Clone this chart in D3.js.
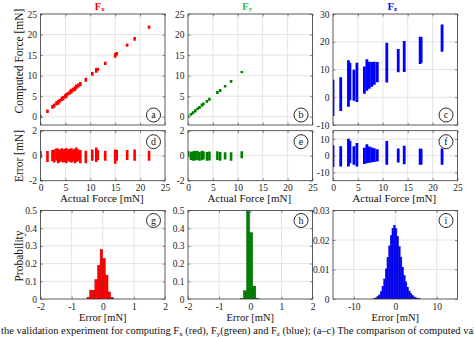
<!DOCTYPE html>
<html><head><meta charset="utf-8">
<script src="https://cdn.jsdelivr.net/npm/d3@7"></script>
<style>
html,body{margin:0;padding:0;background:#fff;overflow:hidden;}
svg{display:block;font-family:"Liberation Serif","Times New Roman",serif;}
svg text{font-family:"Liberation Serif","Times New Roman",serif;}
</style></head><body>
<svg id="chart" width="474" height="337"></svg>
<script>
// ---- Fx: actual force clusters [mN] and error range of each cluster [mN]
const fxActual = [0, 1.4, 2.4, 2.75, 3.2, 3.55, 3.9, 4.3, 4.55, 4.95, 5.2, 5.55, 5.9, 6.2, 6.55, 6.9, 7.2, 7.6, 8.0, 9.1, 10.4, 11.2, 11.5, 13.0, 15.0, 15.3, 17.4, 18.9, 21.8];
const fxErrLo  = [-0.2, -0.5, -0.45, -0.55, -0.4, -0.6, -0.5, -0.45, -0.55, -0.5, -0.6, -0.4, -0.5, -0.55, -0.45, -0.6, -0.5, -0.45, -0.6, -0.6, -0.4, -0.5, -0.35, -0.4, -0.65, -0.4, -0.35, -0.4, -0.4];
const fxErrHi  = [0.38, 0.38, 0.45, 0.5, 0.6, 0.55, 0.5, 0.6, 0.5, 0.55, 0.6, 0.5, 0.55, 0.6, 0.5, 0.55, 0.65, 0.5, 0.45, 0.4, 0.5, 0.65, 0.45, 0.4, 0.5, 0.45, 0.45, 0.5, 0.4];

// ---- Fy
const fyActual = [0, 0.6, 1.0, 1.45, 1.9, 2.3, 2.8, 3.1, 3.8, 4.3, 5.9, 6.45, 7.45, 8.65, 10.8];
const fyErrLo  = [-0.08, -0.34, -0.4, -0.38, -0.34, -0.4, -0.36, -0.3, -0.4, -0.38, -0.34, -0.4, -0.3, -0.4, -0.21];
const fyErrHi  = [0.4, 0.32, 0.36, 0.4, 0.38, 0.3, 0.4, 0.36, 0.3, 0.34, 0.36, 0.3, 0.27, 0.27, 0.36];

// ---- Fz
const fzActual = [0, 1.55, 3.1, 3.4, 4.2, 4.8, 6.3, 6.8, 7.3, 7.8, 8.3, 8.9, 10.8, 13.1, 14.3, 17.5, 17.7, 21.9];
const fzErrLo  = [-6.8, -6.5, -6.5, -4.5, -5.5, -6.5, -5.0, -4.5, -4.2, -4.0, -3.8, -3.5, -5.5, -4.1, -5.2, -5.5, -5.3, -5.5];
const fzErrHi  = [6.3, 5.7, 10.2, 9.0, 5.7, 7.6, 4.8, 6.9, 5.5, 4.9, 4.5, 3.8, 8.8, 4.3, 6.0, 4.3, 4.0, 4.3];

// ---- error histograms (bin centres [mN], probability per bin)
const fxBinWidth = 0.085;
const fxHistCenters = [-0.4675, -0.3825, -0.2975, -0.2125, -0.1275, -0.0425, 0.0425, 0.1275, 0.2125, 0.2975];
const fxHistProb    = [0.01, 0.05, 0.05, 0.11, 0.19, 0.28, 0.23, 0.135, 0.04, 0.01];

const fyBinWidth = 0.1;
const fyHistCenters = [-0.27, -0.17, -0.07, 0.03, 0.13, 0.23];
const fyHistProb    = [0.004, 0.047, 0.5, 0.375, 0.073, 0.003];

const fzBinWidth = 0.4;
const fzHistCenters = [-5.0, -4.6, -4.2, -3.8, -3.4, -3.0, -2.6, -2.2, -1.8, -1.4, -1.0, -0.6, -0.2, 0.2, 0.6, 1.0, 1.4, 1.8, 2.2, 2.6, 3.0, 3.4, 3.8, 4.2, 4.6, 5.0, 5.4, 5.8];
const fzHistProb    = [0.0002, 0.0004, 0.0008, 0.0014, 0.0025, 0.0042, 0.0068, 0.0102, 0.0140, 0.0180, 0.0215, 0.0240, 0.0250, 0.0238, 0.0212, 0.0178, 0.0142, 0.0108, 0.0080, 0.0058, 0.0040, 0.0027, 0.0018, 0.0011, 0.0007, 0.0004, 0.0002, 0.0001];

// ---- ticks
const forceTicks   = [0, 5, 10, 15, 20, 25];
const computedTicks = [0, 5, 10, 15, 20, 25];
const computedZTicks = [-10, 0, 10, 20, 30];
const errTicks     = [-2, 0, 2];
const errZTicks    = [-10, 0, 10];
const histXTicks   = [-2, -1, 0, 1, 2];
const histZXTicks  = [-10, 0, 10];
const probTicks    = [0, 0.1, 0.2, 0.3, 0.4, 0.5];
const probZTicks   = [0, 0.01, 0.02, 0.03];

const titles = [["F", "x", "#ff0000"], ["F", "y", "#2fb34f"], ["F", "z", "#0000ff"]];
const letters = ["a", "b", "c", "d", "e", "f", "g", "h", "i"];

const RED = "#ff0000", GREEN = "#008000", BLUE = "#0000ff";
const SERIF = '"Liberation Serif","Times New Roman",serif';

const svg = d3.select("#chart");
const colX = [[40.5, 165], [188, 312.5], [333, 457.5]];
const rowY = [[14, 125], [130.7, 180.7], [210.5, 299]];

function panel(ci, ri, xDom, yDom, xTicks, yTicks, xLabels) {
  const [x0, x1] = colX[ci], [y0, y1] = rowY[ri];
  const x = d3.scaleLinear().domain(xDom).range([x0, x1]);
  const y = d3.scaleLinear().domain(yDom).range([y1, y0]);
  const g = svg.append("g");
  g.append("rect").attr("x", x0).attr("y", y0).attr("width", x1 - x0).attr("height", y1 - y0).attr("fill", "#fff");
  // grid
  g.append("g").selectAll("line").data(xTicks.filter(t => t > xDom[0] && t < xDom[1])).join("line")
    .attr("x1", d => x(d)).attr("x2", d => x(d)).attr("y1", y0).attr("y2", y1)
    .attr("stroke", "#dcdcdc").attr("stroke-width", 0.8);
  g.append("g").selectAll("line").data(yTicks.filter(t => t > yDom[0] && t < yDom[1])).join("line")
    .attr("y1", d => y(d)).attr("y2", d => y(d)).attr("x1", x0).attr("x2", x1)
    .attr("stroke", "#dcdcdc").attr("stroke-width", 0.8);
  const id = "clip" + ci + ri;
  svg.append("clipPath").attr("id", id).append("rect")
    .attr("x", x0).attr("y", y0).attr("width", x1 - x0).attr("height", y1 - y0);
  const plot = g.append("g").attr("clip-path", `url(#${id})`);
  const axes = svg.append("g");
  const fmt = d => String(d);
  axes.append("g").attr("transform", `translate(0,${y1})`)
    .call(d3.axisBottom(x).tickValues(xTicks).tickSize(-2.5).tickPadding(4).tickFormat(xLabels ? fmt : () => ""));
  axes.append("g").attr("transform", `translate(${x0},0)`)
    .call(d3.axisLeft(y).tickValues(yTicks).tickSize(-2.5).tickPadding(3.5).tickFormat(fmt));
  axes.append("g").attr("transform", `translate(0,${y0})`)
    .call(d3.axisTop(x).tickValues(xTicks).tickSize(-2.5).tickFormat(() => ""));
  axes.append("g").attr("transform", `translate(${x1},0)`)
    .call(d3.axisRight(y).tickValues(yTicks).tickSize(-2.5).tickFormat(() => ""));
  axes.selectAll("g").attr("font-family", SERIF);
  axes.selectAll(".domain").remove();
  axes.selectAll(".tick line").attr("stroke", "#444").attr("stroke-width", 0.6);
  axes.selectAll("text").attr("font-family", SERIF).attr("font-size", 9.5).attr("fill", "#222");
  axes.append("rect").attr("x", x0).attr("y", y0).attr("width", x1 - x0).attr("height", y1 - y0)
    .attr("fill", "none").attr("stroke", "#333").attr("stroke-width", 0.8);
  // panel letter in a circle
  const L = letters[ri * 3 + ci];
  const cx = x1 - 11.5, cy = ri === 2 ? y0 + 10 : (ri === 0 ? y1 - 10 : y0 + 11);
  axes.append("circle").attr("cx", cx).attr("cy", cy).attr("r", 7)
    .attr("fill", "#fff").attr("stroke", "#111").attr("stroke-width", 0.9);
  axes.append("text").attr("x", cx).attr("y", cy).attr("dy", "0.32em").attr("text-anchor", "middle")
    .attr("font-family", SERIF).attr("font-size", 10).attr("fill", "#111").text(L);
  return {x, y, plot};
}

function rangeMarks(p, actual, lo, hi, color, w, offset) {
  const rows = actual.map((a, i) => ({a, lo: lo[i], hi: hi[i]}));
  p.plot.append("g").selectAll("line").data(rows).join("line")
    .attr("x1", d => p.x(d.a)).attr("x2", d => p.x(d.a))
    .attr("y1", d => p.y((offset ? d.a : 0) + d.lo)).attr("y2", d => p.y((offset ? d.a : 0) + d.hi))
    .attr("stroke", color).attr("stroke-width", w);
}

function histBars(p, centers, probs, width, color, edge) {
  const rows = centers.map((c, i) => ({c, p: probs[i]}));
  p.plot.append("g").selectAll("rect").data(rows).join("rect")
    .attr("x", d => p.x(d.c - width / 2)).attr("width", d => p.x(d.c + width / 2) - p.x(d.c - width / 2))
    .attr("y", d => p.y(d.p)).attr("height", d => p.y(0) - p.y(d.p))
    .attr("fill", color).attr("stroke", edge).attr("stroke-width", 0.4);
}

// row 1: computed vs actual
const pa = panel(0, 0, [0, 25], [-2, 25], forceTicks, computedTicks, false);
const pb = panel(1, 0, [0, 25], [-2, 25], forceTicks, computedTicks, false);
const pc = panel(2, 0, [0, 25], [-10, 30], forceTicks, computedZTicks, false);
rangeMarks(pa, fxActual, fxErrLo, fxErrHi, RED, 2.6, true);
rangeMarks(pb, fyActual, fyErrLo, fyErrHi, GREEN, 2.6, true);
rangeMarks(pc, fzActual, fzErrLo, fzErrHi, BLUE, 2.8, true);

// row 2: error vs actual
const pd = panel(0, 1, [0, 25], [-2, 2], forceTicks, errTicks, true);
const pe = panel(1, 1, [0, 25], [-2, 2], forceTicks, errTicks, true);
const pf = panel(2, 1, [0, 25], [-15, 15], forceTicks, errZTicks, true);
rangeMarks(pd, fxActual, fxErrLo, fxErrHi, RED, 2.6, false);
rangeMarks(pe, fyActual, fyErrLo, fyErrHi, GREEN, 2.6, false);
rangeMarks(pf, fzActual, fzErrLo, fzErrHi, BLUE, 2.8, false);

// row 3: error histograms
const pg = panel(0, 2, [-2, 2], [0, 0.5], histXTicks, probTicks, true);
const ph = panel(1, 2, [-2, 2], [0, 0.5], histXTicks, probTicks, true);
const pi = panel(2, 2, [-15, 15], [0, 0.03], histZXTicks, probZTicks, true);
histBars(pg, fxHistCenters, fxHistProb, fxBinWidth, RED, "#c00000");
histBars(ph, fyHistCenters, fyHistProb, fyBinWidth, GREEN, "#005a00");
histBars(pi, fzHistCenters, fzHistProb, fzBinWidth, BLUE, "#0000c8");

// titles
titles.forEach(([base, sub, color], i) => {
  const cx = (colX[i][0] + colX[i][1]) / 2 - 3;
  const t = svg.append("text").attr("x", cx).attr("y", 9.6).attr("text-anchor", "middle")
    .attr("font-family", SERIF).attr("font-size", 10.5).attr("font-weight", "bold").attr("fill", color);
  t.append("tspan").text(base);
  t.append("tspan").attr("font-size", 7).attr("dy", 1.5).text(sub);
});

// axis labels
const labelG = svg.append("g").attr("font-family", SERIF).attr("font-size", 11.5).attr("fill", "#111");
labelG.append("text").attr("transform", "translate(23,61) rotate(-90)").attr("text-anchor", "middle").text("Computed Force [mN]");
labelG.append("text").attr("transform", "translate(23,156) rotate(-90)").attr("text-anchor", "middle").text("Error [mN]");
labelG.append("text").attr("transform", "translate(23,256) rotate(-90)").attr("text-anchor", "middle").text("Probability");
colX.forEach(([a, b]) => {
  labelG.append("text").attr("x", (a + b) / 2 - 1).attr("y", 202).attr("text-anchor", "middle").attr("font-size", 11).text("Actual Force [mN]");
  labelG.append("text").attr("x", (a + b) / 2).attr("y", 321).attr("text-anchor", "middle").attr("font-size", 10.5).text("Error [mN]");
});

// caption line
const cap = svg.append("text").attr("x", 1).attr("y", 334).attr("font-family", SERIF).attr("font-size", 10.5).attr("fill", "#111");
cap.append("tspan").text("the validation experiment for computing F");
cap.append("tspan").attr("font-size", 7).attr("dy", 1.5).text("x");
cap.append("tspan").attr("dy", -1.5).text(" (red), F");
cap.append("tspan").attr("font-size", 7).attr("dy", 1.5).text("y");
cap.append("tspan").attr("dy", -1.5).text("(green) and F");
cap.append("tspan").attr("font-size", 7).attr("dy", 1.5).text("z");
cap.append("tspan").attr("dy", -1.5).text(" (blue); (a\u2013c) The comparison of computed values");
</script>
</body></html>
